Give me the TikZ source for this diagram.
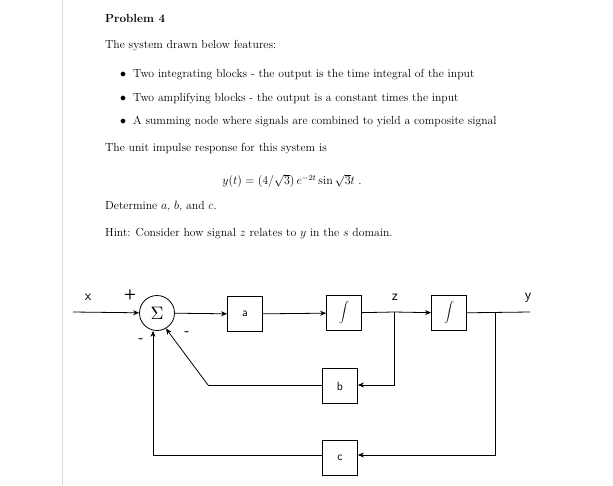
\documentclass[tikz,border=0pt]{standalone}
\usetikzlibrary{arrows.meta}
\begin{document}
\begin{tikzpicture}[x=1pt,y=-1pt,
  txt/.style={anchor=west,inner sep=0pt,font=\fontsize{11.7}{13}\selectfont},
  blk/.style={draw,thick,minimum width=35pt,minimum height=35pt,inner sep=0pt},
  sig/.style={thick,-{Stealth[length=6pt,width=5pt]}},
  ln/.style={thick},
  lab/.style={inner sep=0pt,font=\sffamily\Large}]
\useasboundingbox (0,0) rectangle (613,485);
\draw[black!15] (62,0) -- (62,485);
\node[txt,font=\fontsize{11.7}{13}\selectfont\bfseries] (t0) at (105,18) {Problem 4};
\node[txt] (t1) at (105,46) {The system drawn below features:};
\node[txt] (b1) at (120,75) {$\bullet$\hspace{7pt}Two integrating blocks - the output is the time integral of the input};
\node[txt] (b2) at (120,99) {$\bullet$\hspace{7pt}Two amplifying blocks - the output is a constant times the input};
\node[txt] (b3) at (120,122) {$\bullet$\hspace{7pt}A summing node where signals are combined to yield a composite signal};
\node[txt] (t2) at (105,149) {The unit impulse response for this system is};
\node[txt,anchor=center] (eq) at (292,181) {$y(t)=(4/\sqrt{3})\,e^{-2t}\sin\sqrt{3}t\;.$};
\node[txt] (t3) at (105,206) {Determine $a$, $b$, and $c$.};
\node[txt] (t4) at (105,234) {Hint: Consider how signal $z$ relates to $y$ in the $s$ domain.};

\coordinate (x0) at (73,312);
\node[draw,thick,circle,minimum size=35pt,inner sep=0pt] (s) at (157,313) {\scalebox{1.8}{$\Sigma$}};
\node[blk] (a) at (245,314) {\sffamily\large a};
\node[blk] (i1) at (344,313) {$\displaystyle\int$};
\coordinate (z) at (394,312);
\node[blk] (i2) at (449,313) {$\displaystyle\int$};
\coordinate (yb) at (495,312);
\coordinate (yend) at (530,312);
\node[blk] (b) at (340,386) {\sffamily\large b};
\node[blk] (c) at (340,458) {\sffamily\large c};
\coordinate (bz) at (394,385);
\coordinate (bl) at (208,385);
\coordinate (cy) at (495,455);
\coordinate (cl) at (153,455);

\draw[sig] (x0) -- (s);
\draw[sig] (s) -- (a);
\draw[sig] (a) -- (i1);
\draw[ln] (i1) -- (z);
\draw[sig] (z) -- (i2);
\draw[ln] (i2) -- (yend);
\draw[sig] (z) -- (bz) -- (b.east |- bz);
\draw[ln] (b.west |- bl) -- (bl);
\draw[sig] (bl) -- (s.-60);
\draw[sig] (yb) -- (cy) -- (c.east |- cy);
\draw[ln] (c.west |- cl) -- (cl);
\draw[sig] (cl) -- (cl |- s.south);

\node[lab] (lx) at (88,297) {x};
\node[lab] (lp) at (130,295) {\textbf{+}};
\node[lab] (lm1) at (141,341) {\textbf{-}};
\node[lab] (lm2) at (187,334) {\textbf{-}};
\node[lab] (lz) at (395,297) {z};
\node[lab] (ly) at (528,298) {y};
\end{tikzpicture}
\end{document}
